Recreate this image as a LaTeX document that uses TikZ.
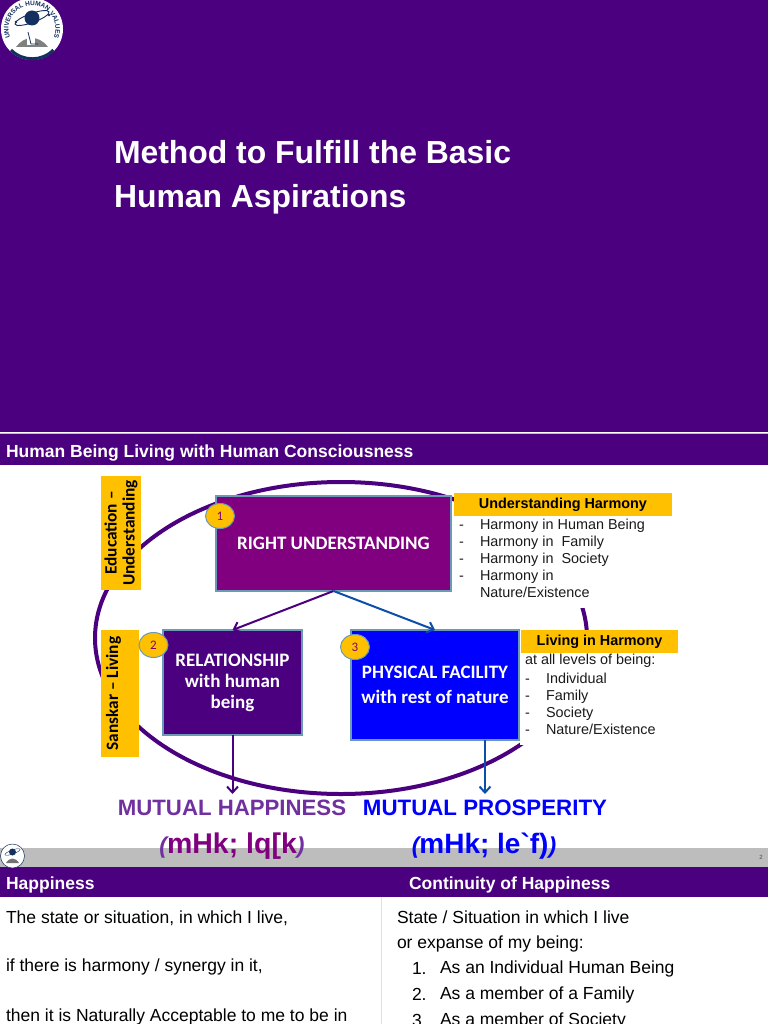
\documentclass[tikz,border=0pt]{standalone}
\usepackage{fontspec}
\setmainfont{Liberation Sans}
\newfontfamily\carl{Carlito}
\newfontfamily\rawar{Liberation Sans}
\usetikzlibrary{arrows.meta,decorations.text,shapes.geometric}
\definecolor{indigoBg}{HTML}{4B007F}
\definecolor{plumBox}{HTML}{800080}
\definecolor{goldBox}{HTML}{FFC000}
\definecolor{edgeBlue}{HTML}{6A9AB5}
\definecolor{arrowBlue}{HTML}{0B4FA8}
\definecolor{hapPurple}{HTML}{7030A0}
\definecolor{bandGrey}{HTML}{BDBDBD}
\definecolor{txtGrey}{HTML}{1A1A1A}
\definecolor{logoBlue}{HTML}{14305F}
\tikzset{
  every node/.style={inner sep=0pt,outer sep=0pt},
  mainbox/.style={draw=edgeBlue,line width=1.1pt,text=white,align=center,font=\carl\bfseries\fontsize{19}{21}\selectfont,anchor=north west},
  goldtag/.style={fill=goldBox,anchor=north west,font=\bfseries\fontsize{14.4}{15}\selectfont,text=black,align=center},
  sidetag/.style={fill=goldBox,anchor=north west,align=center},
  sidetxt/.style={font=\carl\bfseries\fontsize{17.3}{18}\selectfont,rotate=90,align=center},
  badge/.style={ellipse,fill=goldBox,draw=edgeBlue,line width=1pt,minimum width=29pt,minimum height=25pt,text=plumBox,font=\carl\fontsize{13}{13}\selectfont},
  headtxt/.style={text=white,anchor=west,font=\bfseries\fontsize{17.5}{18}\selectfont},
  listtxt/.style={text=txtGrey,anchor=north west,align=left,font=\fontsize{14.4}{17.2}\selectfont},
  bodytxt/.style={text=black,anchor=west,font=\fontsize{17.5}{18}\selectfont},
  conn/.style={line width=2pt,-{Straight Barb[length=6pt,width=11pt]}},
}
\begin{document}
\begin{tikzpicture}[x=1pt,y=-1pt]
\useasboundingbox (0,0) rectangle (768,1024);
% backgrounds
\fill[white] (0,0) rectangle (768,1024);
\fill[indigoBg] (0,0) rectangle (768,432);
\fill[indigoBg] (0,433.5) rectangle (768,465);
\draw[bandGrey,line width=.6pt] (0,432.8) -- (768,432.8);
\fill[bandGrey] (0,848) rectangle (768,867);
\fill[indigoBg] (0,867) rectangle (768,897);
\draw[black!12,line width=.8pt] (381,897) -- (381,1024);
% top logo
\fill[white] (32,29) circle (31);
\draw[logoBlue,line width=3pt] (11,50) arc (135:45:30);
\fill[logoBlue] (32,18) circle (7.5);
\draw[logoBlue,line width=.9pt,rotate around={20:(32,18)}] (32,18) ellipse (18 and 4.5);
\fill[logoBlue] (16,22) circle (1.3);
\fill[logoBlue] (49,15) circle (1.3);
\fill[black!50!white] (16,47) .. controls (24,36) and (38,34) .. (48,47) -- cycle;
\fill[white] (27,35) rectangle (35,45);
\draw[logoBlue,line width=.8pt] (28,32) -- (31,44) -- (38,44);
\path[postaction={decorate,decoration={text along path,text align=center,text={|\fontsize{6.5}{7}\selectfont\bfseries\color{logoBlue}|UNIVERSAL HUMAN VALUES}}}] (12.75,42.5) arc (145:395:23.5);
% title
\node[anchor=west,text=white,align=left,font=\bfseries\fontsize{31.9}{44.5}\selectfont] (title) at (114,177.5) {Method to Fulfill the Basic\\Human Aspirations};
% band head
\node[headtxt] (head1) at (6,453) {Human Being Living with Human Consciousness};
% ellipse
\draw[indigoBg,line width=4pt] (341,638) ellipse (246 and 156);
% white masks for the text
\fill[white] (454,493) rectangle (672,608);
\fill[white] (520,630) rectangle (678,745);
% side tags
\node[sidetag,minimum width=40pt,minimum height=114pt] (edu) at (101,476) {};
\node[sidetxt] (edut) at (121,533) {Education –\\Understanding};
\node[sidetag,minimum width=38pt,minimum height=127pt] (san) at (101,630) {};
\node[sidetxt] (sant) at (113.5,693.5) {Sanskar – Living};
% main boxes
\node[mainbox,fill=plumBox,minimum width=235pt,minimum height=95pt] (ru) at (216,496) {RIGHT UNDERSTANDING};
\node[mainbox,fill=indigoBg,minimum width=139pt,minimum height=105pt] (rel) at (163,630) {RELATIONSHIP\\with human\\being};
\node[mainbox,fill=blue,minimum width=168pt,minimum height=110pt,font=\carl\bfseries\fontsize{19}{25}\selectfont] (phy) at (351,630) {PHYSICAL FACILITY\\with rest of nature};
% badges
\node[badge] (b1) at (220,516) {1};
\node[badge] (b2) at (153.5,645) {2};
\node[badge] (b3) at (355,647) {3};
% connectors
\draw[conn,indigoBg] (ru.south) -- (rel.north);
\draw[conn,arrowBlue] (ru.south) -- (phy.north);
\coordinate (hapTip) at (232.5,794);
\coordinate (proTip) at (485,794);
\draw[conn,indigoBg] (rel.south) -- (hapTip);
\draw[conn,arrowBlue] (phy.south -| proTip) -- (proTip);
% harmony tags
\node[goldtag,minimum width=218pt,minimum height=23pt] (uh) at (454,493) {Understanding Harmony};
\node[goldtag,minimum width=157pt,minimum height=23pt] (lh) at (521,630) {Living in Harmony};
\node[listtxt] (ul) at (459,517) {\begin{tabular}{@{}p{21pt}@{}l@{}}
-&Harmony in Human Being\\
-&Harmony in\ \ Family\\
-&Harmony in\ \ Society\\
-&Harmony in\\
&Nature/Existence
\end{tabular}};
\node[listtxt] (ll) at (525,654.5) {at all levels of being:\\[2.2pt]\begin{tabular}{@{}p{21pt}@{}l@{}}
-&Individual\\
-&Family\\
-&Society\\
-&Nature/Existence
\end{tabular}};
% mutual
\node[text=hapPurple,font=\bfseries\fontsize{22.2}{24}\selectfont] (mh) at (232,807.5) {MUTUAL HAPPINESS};
\node[text=blue,font=\bfseries\fontsize{22.3}{24}\selectfont] (mp) at (485,807.5) {MUTUAL PROSPERITY};
% small logo and page number
\fill[white] (12.5,856) circle (12);
\draw[logoBlue,line width=.5pt] (12.5,856) circle (12);
\fill[logoBlue] (12.5,852) circle (3.5);
\draw[logoBlue,line width=.4pt,rotate around={20:(12.5,852)}] (12.5,852) ellipse (8 and 2);
\fill[black!55!white] (6,863) .. controls (10,857) and (15,857) .. (19,863) -- cycle;
\node[font=\fontsize{6}{6}\selectfont,text=black!70] (pg) at (761,857) {2};
\node[text=plumBox,font=\rawar\bfseries\fontsize{28.5}{30}\selectfont] (hi1) at (232,846) {{\color{hapPurple}\itshape\fontsize{23}{24}\selectfont(}mHk; lq[k{\color{hapPurple}\itshape\fontsize{23}{24}\selectfont)}};
\node[text=blue,font=\rawar\bfseries\fontsize{28}{30}\selectfont] (hi2) at (484,846) {{\itshape\fontsize{23}{24}\selectfont(}mHk; le`f){\itshape\fontsize{23}{24}\selectfont)}};
% lower heads
\node[headtxt] (head2) at (6,885) {Happiness};
\node[headtxt] (head3) at (409,885) {Continuity of Happiness};
% lower text
\begin{scope}
\clip (0,897) rectangle (768,1024);
\node[bodytxt] (l1) at (6,918.5) {The state or situation, in which I live,};
\node[bodytxt] (l2) at (6,966.5) {if there is harmony / synergy in it,};
\node[bodytxt] (l3) at (6,1016.5) {then it is Naturally Acceptable to me to be in};
\node[bodytxt] (r1) at (397,917.5) {State / Situation in which I live};
\node[bodytxt] (r2) at (397,943.5) {or expanse of my being:};
\node[bodytxt] (r3) at (412,968.5) {1.};
\node[bodytxt] (r3b) at (440,968.5) {As an Individual Human Being};
\node[bodytxt] (r4) at (412,994.5) {2.};
\node[bodytxt] (r4b) at (440,994.5) {As a member of a Family};
\node[bodytxt] (r5) at (412,1020.5) {3.};
\node[bodytxt] (r5b) at (440,1020.5) {As a member of Society};
\end{scope}
\end{tikzpicture}
\end{document}
